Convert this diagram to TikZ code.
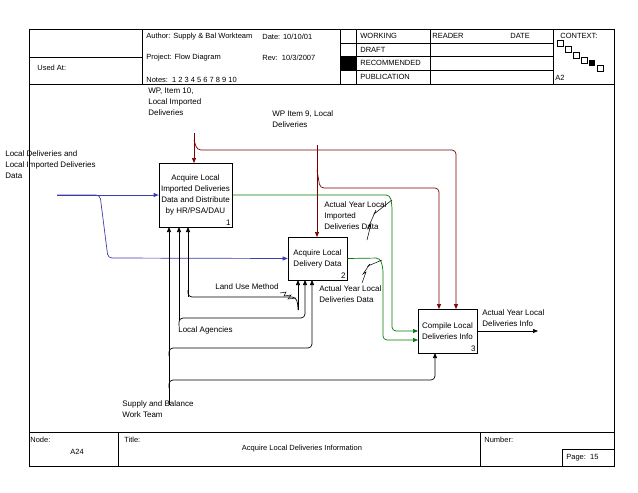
\documentclass[tikz,border=0pt]{standalone}
\usepackage{fontspec}
\setmainfont{Liberation Sans}
\usetikzlibrary{arrows.meta}
\definecolor{cblue}{RGB}{60,60,170}
\definecolor{cred}{RGB}{120,0,0}
\definecolor{cgreen}{RGB}{0,125,0}
\begin{document}
\begin{tikzpicture}[x=1pt,y=-1pt,line width=0.7pt,
  f/.style={font=\fontsize{8}{11}\selectfont},
  lbl/.style={f,align=left,anchor=north west,inner sep=0},
  box/.style={draw,f,align=center,inner sep=1pt},
  num/.style={f,anchor=south east,inner sep=1.5pt},
  arr/.style={-{Triangle[length=5pt,width=4pt]},rounded corners=4pt},
  ln/.style={rounded corners=4pt},
  tb/.style={font=\fontsize{7.5}{11}\selectfont,anchor=west,inner sep=0}]
\useasboundingbox (0,0) rectangle (638,493);
% frame
\draw (29,29) rectangle (614,466);
\draw (29,84) -- (614,84);
\draw (29,57) -- (142,57);
\draw (142,29) -- (142,84);
\draw (340,29) -- (340,84) (356,29) -- (356,84) (430,29) -- (430,84) (553,29) -- (553,84);
\foreach \y in {43,56,70} \draw (340,\y) -- (553,\y);
\fill (340,56) rectangle (356,70);
\node[tb] (ua) at (37,68) {Used At:};
\node[tb] (au) at (146,37) {Author: Supply \& Bal Workteam};
\node[tb] (da) at (262,37) {Date: 10/10/01};
\node[tb] (pr) at (146,58) {Project: Flow Diagram};
\node[tb] (rv) at (262,58) {Rev:\ \ 10/3/2007};
\node[tb] (no) at (146,80) {Notes:\ \ 1 2 3 4 5 6 7 8 9 10};
\node[tb] (w1) at (360,36) {WORKING};
\node[tb] (w2) at (360,50) {DRAFT};
\node[tb] (w3) at (360,63) {RECOMMENDED};
\node[tb] (w4) at (360,77) {PUBLICATION};
\node[tb] (rd) at (432,36) {READER};
\node[tb] (dt) at (510,36) {DATE};
\node[tb] (cx) at (560,36) {CONTEXT:};
\node[tb] (a2) at (555,78) {A2};
\foreach \x/\y in {557/40,565/46,573/52,581/57,597/65} \draw[fill=white,line width=0.5pt] (\x,\y) rectangle ++(6,6);
\fill (589,60) rectangle ++(6,6);
% bottom
\draw (29,432) -- (614,432) (118,432) -- (118,466) (480,432) -- (480,466);
\draw (562,449) rectangle (614,466);
\node[tb] (nd) at (30,440) {Node:};
\node[tb] (nn) at (70,452) {A24};
\node[tb] (tt) at (124,440) {Title:};
\node[tb,anchor=center] (tx) at (302,449) {Acquire Local Deliveries Information};
\node[tb] (nb) at (484,440) {Number:};
\node[tb] (pg) at (566,458) {Page:\ \ 15};
% boxes
\node[box,minimum width=73,minimum height=64] (b1) at (195.5,195) {Acquire Local\\Imported Deliveries\\Data and Distribute\\by HR/PSA/DAU};
\node[num] (n1) at (b1.south east) {1};
\node[box,minimum width=59,minimum height=43] (b2) at (317.5,258.5) {Acquire Local\\Delivery Data};
\node[num] (n2) at (b2.south east) {2};
\node[box,minimum width=59,minimum height=44] (b3) at (447.5,331) {Compile Local\\Deliveries Info};
\node[num] (n3) at (b3.south east) {3};
% labels
\node[lbl] (l1) at (5,150) {Local Deliveries and\\Local Imported Deliveries\\Data};
\node[lbl] (l2) at (148,88) {WP, Item 10,\\Local Imported\\Deliveries};
\node[lbl] (l3) at (272,110) {WP Item 9, Local\\Deliveries};
\node[lbl] (l4) at (324,201) {Actual Year Local\\Imported\\Deliveries Data};
\node[lbl] (l5) at (319,285) {Actual Year Local\\Deliveries Data};
\node[lbl] (l6) at (482,309) {Actual Year Local\\Deliveries Info};
\node[lbl] (l7) at (215,283) {Land Use Method};
\node[lbl] (l8) at (178,326) {Local Agencies};
\node[lbl] (l9) at (122,400) {Supply and Balance\\Work Team};
% blue inputs
\coordinate (bi) at (57,195);
\draw[cblue,arr] (bi) -- (b1.west);
\draw[cblue,arr] (bi) -- (100,195) -- (108,258) -- (b2.west);
% red controls
\draw[cred,arr] (194,133) -- (194,163);
\draw[cred,arr] (194,140) -- (197,150) -- (456,150) -- (456,309);
\draw[cred,arr] (317,145) -- (317,237);
\draw[cred,arr] (317,170) -- (320,188) -- (439,188) -- (439,309);
% green
\draw[cgreen,arr] (b1.east) -- (390,195) -- (392,205) -- (392,331) -- (418,331);
\draw[cgreen,arr] (b2.east) -- (380,258) -- (383,268) -- (383,340) -- (418,340);
% output
\draw[arr] (b3.east) -- (538,331);
% mechanisms
\draw[arr] (169,405) -- (169,227);
\draw[arr,ln] (169,356) -- (169,348) -- (312,348) -- (312,280);
\draw[arr,ln] (169,388) -- (169,380) -- (435,380) -- (435,353);
\draw[arr,ln] (179,326) -- (179,318) -- (305,318) -- (305,280);
\draw[arr] (179,320) -- (179,227);
\draw[arr,ln] (188,297) -- (188,227);
\draw[ln] (188,290) -- (188,297) -- (296,297) -- (298,305) -- (298,310);
\draw[arr] (298,310) -- (298,280);
% squiggles
\draw[line width=0.5pt] (280,293) -- (286,292) -- (284,296) -- (291,295) -- (288,299) -- (296,298);
\draw[line width=0.5pt] (367,240) -- (371,224) -- (368,228) -- (376,210) -- (374,214) -- (392,200);
\draw[line width=0.5pt] (362,283) -- (366,272) -- (363,274) -- (370,264) -- (368,266) -- (382,260);
\end{tikzpicture}
\end{document}
